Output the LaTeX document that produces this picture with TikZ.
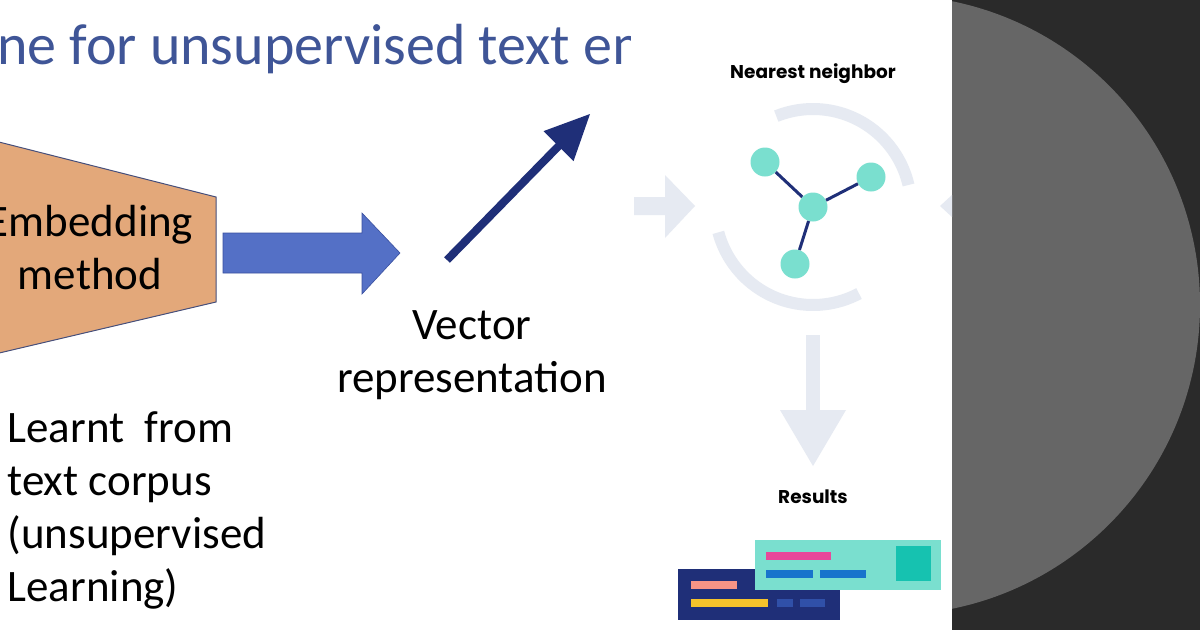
\documentclass[tikz,border=0pt]{standalone}
\usepackage{fontspec}
\setmainfont{Carlito}
\newfontfamily\boldsans{Poppins}
\usetikzlibrary{calc}
\begin{document}
\begin{tikzpicture}[x=1pt,y=-1pt,
  body/.style={font=\fontsize{45}{53}\selectfont, text=black, align=left},
  dot/.style={circle, fill=tealc, minimum size=29pt, inner sep=0pt},
  edge/.style={draw=navyc, line width=3pt},
  lbl/.style={font=\boldsans\bfseries\fontsize{18.5}{22}\selectfont}]
\definecolor{ghostc}{HTML}{E6EAF2}
\definecolor{tealc}{HTML}{7ADFCF}
\definecolor{navyc}{HTML}{1F2F78}
\definecolor{titlec}{HTML}{3F5597}
\definecolor{orangec}{HTML}{E3A87A}
\definecolor{bluec}{HTML}{5470C6}
\definecolor{darkbg}{HTML}{2A2A2A}
\definecolor{circc}{HTML}{666666}
\definecolor{salmon}{HTML}{F79486}
\definecolor{yel}{HTML}{F5C32C}
\definecolor{midb}{HTML}{3050A8}
\definecolor{pinkc}{HTML}{E8489A}
\definecolor{blc}{HTML}{1874CC}
\definecolor{sq}{HTML}{16C2B0}
\useasboundingbox (0,0) rectangle (1200,630);
\fill[white] (0,0) rectangle (952,630);
% right dark panel
\fill[darkbg] (952,0) rectangle (1200,630);
\begin{scope}
\clip (952,0) rectangle (1200,630);
\fill[circc] (890,305) circle (310);
\end{scope}
% title
\begin{scope}
\clip (0,0) rectangle (630,100);
\node[anchor=base west, inner sep=0, text=titlec, font=\fontsize{58}{66}\selectfont] (title) at (-3,64) {ne for unsupervised text embedding};
\end{scope}
% trapezoid
\fill[orangec, draw=navyc!60!gray, line width=1pt] (-5,141) -- (216,197) -- (216,302) -- (-5,354) -- cycle;
\node[body, align=center] (emb) at (90,248) {Embedding\\method};
% block arrow
\fill[bluec, draw=navyc!50!bluec, line width=0.6pt] (223,233) -- (362,233) -- (362,213) -- (400,253) -- (362,294) -- (362,273) -- (223,273) -- cycle;
% vector arrow
\coordinate (vt) at (447,260);
\coordinate (vh) at (590,114);
\draw[navyc, line width=8pt] (vt) -- ($(vt)!0.82!(vh)$);
\fill[navyc] (vh) -- ($(vt)!0.78!(vh)+(-15,-15)$) -- ($(vt)!0.78!(vh)+(15,15)$) -- cycle;
\node[body, align=center] (vec) at (472,355) {Vector\\representation};
\node[body, anchor=north west] (learn) at (4,408) {Learnt\ \ from\\text corpus\\(unsupervised\\Learning)};
% right infographic
\node[lbl] (nn) at (813,74) {Nearest neighbor};
\fill[ghostc] (634,197) -- (665,197) -- (665,175) -- (695,206) -- (665,238) -- (665,215) -- (634,215) -- cycle;
\fill[ghostc] (952,195) -- (940,206) -- (952,217) -- cycle;
\draw[ghostc, line width=12pt] (813,207) ++(-112:98) arc[start angle=-112, end angle=-13, radius=98];
\draw[ghostc, line width=12pt] (813,207) ++(165:98) arc[start angle=165, end angle=62, radius=98];
\node[dot] (c) at (813,207) {};
\node[dot] (a) at (765,162) {};
\node[dot] (b) at (871,177) {};
\node[dot] (d) at (795,264) {};
\draw[edge] (c) -- (a); \draw[edge] (c) -- (b); \draw[edge] (c) -- (d);
\fill[ghostc] (806,335) rectangle (820,410);
\fill[ghostc] (780,410) -- (846,410) -- (813,466) -- cycle;
\node[lbl] (res) at (813,497) {Results};
% cards
\fill[navyc] (678,569) rectangle (840,620);
\fill[salmon] (691,581) rectangle (737,589);
\fill[yel] (691,599) rectangle (768,607);
\fill[midb] (777,599) rectangle (793,607);
\fill[midb] (800,599) rectangle (825,607);
\fill[tealc] (755,540) rectangle (941,590);
\fill[pinkc] (766,552) rectangle (831,560);
\fill[blc] (766,570) rectangle (813,578);
\fill[blc] (820,570) rectangle (866,578);
\fill[sq] (896,546) rectangle (931,581);
\end{tikzpicture}
\end{document}
